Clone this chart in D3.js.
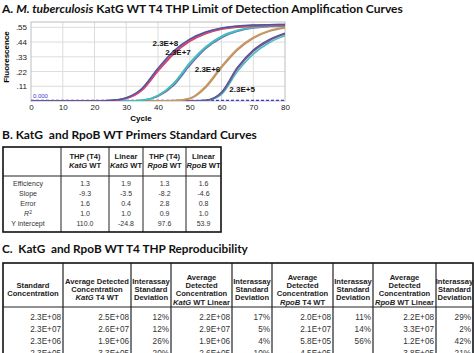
<!DOCTYPE html>
<html>
<head>
<meta charset="utf-8">
<script src="https://cdn.jsdelivr.net/npm/d3@7"></script>
<style>
  body { margin: 0; background: #fff; }
  svg { display: block; }
</style>
</head>
<body>
<svg id="fig"></svg>
<script>
// ---- data: amplification curves (fluorescence read every 5 cycles) ----
const cycles = [0, 5, 10, 15, 20, 25, 30, 35, 40, 45, 50, 55, 60, 65, 70, 75, 80];
const e8Blue = [0, 0, 0, 0, 0, 0.004, 0.024, 0.095, 0.245, 0.375, 0.462, 0.515, 0.545, 0.56, 0.567, 0.57, 0.572];
const e8Pink = [0, 0, 0, 0, 0, 0.003, 0.02, 0.085, 0.23, 0.36, 0.452, 0.508, 0.54, 0.556, 0.564, 0.568, 0.57];
const e8Teal = [0, 0, 0, 0, 0, 0.004, 0.022, 0.09, 0.238, 0.368, 0.457, 0.511, 0.542, 0.558, 0.565, 0.569, 0.571];
const e8Red = [0, 0, 0, 0, 0, 0.003, 0.018, 0.08, 0.222, 0.352, 0.445, 0.502, 0.535, 0.551, 0.558, 0.562, 0.564];
const e7Cyan = [0, 0, 0, 0, 0, 0, 0, 0.005, 0.04, 0.13, 0.28, 0.40, 0.48, 0.525, 0.548, 0.558, 0.563];
const e7Purple = [0, 0, 0, 0, 0, 0, 0, 0.004, 0.034, 0.118, 0.265, 0.39, 0.472, 0.52, 0.545, 0.556, 0.561];
const e7Teal = [0, 0, 0, 0, 0, 0, 0, 0.005, 0.042, 0.135, 0.285, 0.405, 0.484, 0.528, 0.55, 0.559, 0.564];
const e6Orange = [0, 0, 0, 0, 0, 0, 0, 0, 0, 0.003, 0.02, 0.11, 0.26, 0.39, 0.475, 0.525, 0.55];
const e6Tan = [0, 0, 0, 0, 0, 0, 0, 0, 0, 0.002, 0.017, 0.1, 0.248, 0.38, 0.468, 0.52, 0.546];
const e5Purple = [0, 0, 0, 0, 0, 0, 0, 0, 0, 0, 0, 0.004, 0.06, 0.24, 0.37, 0.45, 0.50];
const e5Cyan = [0, 0, 0, 0, 0, 0, 0, 0, 0, 0, 0, 0.003, 0.05, 0.22, 0.35, 0.435, 0.487];
const e5Dark = [0, 0, 0, 0, 0, 0, 0, 0, 0, 0, 0, 0.005, 0.065, 0.25, 0.38, 0.458, 0.507];
const curveList = [e5Cyan, e5Dark, e5Purple, e6Tan, e6Orange, e7Purple, e7Teal, e7Cyan, e8Red, e8Teal, e8Pink, e8Blue];
const curveColors = ["#47bcc1", "#594f8c", "#6a5a9c", "#b89070", "#c9985c", "#7467ad", "#52b8b0", "#3dbfc1", "#c9405a", "#45b3ae", "#e0457b", "#4f55a3"];
const threshold = 0.004;

// concentration labels on the chart
const concLabels = ["2.3E+8", "2.3E+7", "2.3E+6", "2.3E+5"];
const concLabelCycle = [42.3, 46.3, 55.6, 66.5];
const concLabelValue = [0.432, 0.364, 0.238, 0.089];

const xTicks = [0, 10, 20, 30, 40, 50, 60, 70, 80];
const yTicks = [0.11, 0.22, 0.33, 0.44, 0.55];
const yTickLabels = [".11", ".22", ".33", ".44", ".55"];

// ---- data: table B ----
const tbHead1 = ["THP (T4)", "Linear", "THP (T4)", "Linear"];
const tbHead2 = ["KatG WT", "KatG WT", "RpoB WT", "RpoB WT"];
const tbRows = ["Efficiency", "Slope", "Error", "R2", "Y intercept"];
const efficiency = [1.3, 1.9, 1.3, 1.6];
const slope = [-9.3, -3.5, -8.2, -4.6];
const error = [1.6, 0.4, 2.8, 0.8];
const rSquared = [1.0, 1.0, 0.9, 1.0];
const yIntercept = [110.0, -24.8, 97.6, 53.9];
const tbValues = [efficiency, slope, error, rSquared, yIntercept];

// ---- data: table C ----
const tcHeads = [
  ["Standard", "Concentration"],
  ["Average Detected", "Concentration", "KatG T4 WT"],
  ["Interassay", "Standard", "Deviation"],
  ["Average", "Detected", "Concentration", "KatG WT Linear"],
  ["Interassay", "Standard", "Deviation"],
  ["Average", "Detected", "Concentration", "RpoB T4 WT"],
  ["Interassay", "Standard", "Deviation"],
  ["Average", "Detected", "Concentration", "RpoB WT Linear"],
  ["Interassay", "Standard", "Deviation"]
];
const stdConc = [2.3e8, 2.3e7, 2.3e6, 2.3e5];
const katgT4 = [2.5e8, 2.6e7, 1.9e6, 3.3e5];
const katgT4Sd = [12, 12, 26, 20];
const katgLin = [2.2e8, 2.9e7, 1.9e6, 2.6e5];
const katgLinSd = [17, 5, 4, 10];
const rpobT4 = [2.0e8, 2.1e7, 5.8e5, 4.5e5];
const rpobT4Sd = [11, 14, 56, null];
const rpobLin = [2.2e8, 3.3e7, 1.2e6, 3.8e5];
const rpobLinSd = [29, 2, 42, 21];
const tcColumns = [stdConc, katgT4, katgT4Sd, katgLin, katgLinSd, rpobT4, rpobT4Sd, rpobLin, rpobLinSd];

// ---- layout ----
const W = 474, H = 353;
const sans = "'Liberation Sans', Arial, sans-serif";
const titleFont = "Lato, 'Open Sans', sans-serif";
const genes = ["KatG", "RpoB"];

const svg = d3.select("#fig").attr("width", W).attr("height", H);

// fit a text element to a target width by scaling its font size
function fit(sel, width) {
  const len = sel.node().getComputedTextLength();
  const fs = parseFloat(sel.style("font-size"));
  sel.style("font-size", (fs * width / len) + "px");
}

// text with italic gene names
function richLine(sel, str) {
  str.split(" ").forEach((w, i) => {
    sel.append("tspan")
      .style("font-style", genes.includes(w) ? "italic" : "normal")
      .text((i ? " " : "") + w);
  });
}

function title(parts, yBase, width) {
  const t = svg.append("text")
    .attr("x", 2).attr("y", yBase)
    .style("font-family", titleFont)
    .style("font-weight", "bold")
    .style("font-size", "13px")
    .style("white-space", "pre")
    .attr("fill", "#111");
  parts.forEach(p => t.append("tspan").style("font-style", p[1] ? "italic" : "normal").text(p[0]));
  fit(t, width);
}

title([["A. ", false], ["M. tuberculosis", true], [" KatG WT T4 THP Limit of Detection Amplification Curves", false]], 12.5, 401);
title([["B. KatG  and RpoB WT Primers Standard Curves", false]], 138.5, 255);
title([["C.  KatG  and RpoB WT T4 THP Reproducibility", false]], 253, 246);

// ---- panel A chart ----
const x = d3.scaleLinear().domain([0, 80]).range([31, 285]);
const y = d3.scaleLinear().domain([0, 0.59]).range([101, 22]);

const chart = svg.append("g");

chart.append("g").selectAll("line.vg")
  .data(xTicks.slice(1, -1))
  .join("line")
  .attr("x1", d => x(d)).attr("x2", d => x(d))
  .attr("y1", y.range()[1]).attr("y2", y.range()[0])
  .attr("stroke", "#dcdcdc").attr("stroke-width", 1);

chart.append("g").selectAll("line.hg")
  .data(yTicks)
  .join("line")
  .attr("x1", x.range()[0]).attr("x2", x.range()[1])
  .attr("y1", d => y(d)).attr("y2", d => y(d))
  .attr("stroke", "#dcdcdc").attr("stroke-width", 1);

chart.append("rect")
  .attr("x", x.range()[0]).attr("y", y.range()[1])
  .attr("width", x.range()[1] - x.range()[0])
  .attr("height", y.range()[0] - y.range()[1])
  .attr("fill", "none").attr("stroke", "#bdbdbd");

const xAxis = chart.append("g")
  .attr("transform", `translate(0,${y.range()[0]})`)
  .call(d3.axisBottom(x).tickValues(xTicks).tickSize(0).tickPadding(3));
const yAxis = chart.append("g")
  .attr("transform", `translate(${x.range()[0]},0)`)
  .call(d3.axisLeft(y).tickValues(yTicks).tickSize(0).tickPadding(4)
    .tickFormat((d, i) => yTickLabels[i]));
[xAxis, yAxis].forEach(a => {
  a.select(".domain").remove();
  a.selectAll("text").style("font-family", sans).style("font-size", "8px").attr("fill", "#222");
});

chart.append("text")
  .attr("x", 141).attr("y", 121)
  .attr("text-anchor", "middle")
  .style("font-family", sans).style("font-size", "8px").style("font-weight", "bold")
  .text("Cycle");

chart.append("text")
  .attr("transform", "translate(9,57) rotate(-90)")
  .attr("text-anchor", "middle")
  .style("font-family", sans).style("font-size", "8px").style("font-weight", "bold")
  .text("Fluorescence");

svg.append("clipPath").attr("id", "plotclip")
  .append("rect")
  .attr("x", x.range()[0]).attr("y", y.range()[1] - 2)
  .attr("width", x.range()[1] - x.range()[0])
  .attr("height", y.range()[0] - y.range()[1] + 2);

const line = d3.line()
  .x((d, i) => x(cycles[i]))
  .y(d => y(d))
  .curve(d3.curveMonotoneX);

const curves = chart.append("g").attr("clip-path", "url(#plotclip)");

curves.append("line")
  .attr("x1", x(0)).attr("x2", x(80))
  .attr("y1", y(threshold)).attr("y2", y(threshold))
  .attr("stroke", "#3b3bd0").attr("stroke-width", 1.5)
  .attr("stroke-dasharray", "3,2");

curves.selectAll("path.curve")
  .data(curveList)
  .join("path")
  .attr("class", "curve")
  .attr("d", line)
  .attr("fill", "none")
  .attr("stroke", (d, i) => curveColors[i])
  .attr("stroke-width", 1.5);

chart.append("text")
  .attr("x", x(0.6)).attr("y", y(threshold) - 2)
  .style("font-family", sans).style("font-size", "6px")
  .attr("fill", "#3b3bd0")
  .text("0.000");

chart.selectAll("text.conc")
  .data(concLabels)
  .join("text")
  .attr("class", "conc")
  .attr("x", (d, i) => x(concLabelCycle[i]))
  .attr("y", (d, i) => y(concLabelValue[i]))
  .attr("dy", "0.35em")
  .attr("text-anchor", "middle")
  .style("font-family", sans).style("font-size", "8px").style("font-weight", "bold")
  .attr("fill", "#111")
  .text(d => d);

// ---- panel B table ----
const tbEdges = [3, 61, 109, 143, 186, 221];
const tbTop = 147, tbHeadBottom = 176, tbBottom = 232;
const tbRowY = d3.scalePoint().domain(tbRows).range([184, 224]);
const tb = svg.append("g").style("font-family", sans);

tb.selectAll("line.col")
  .data(tbEdges.slice(1, -1))
  .join("line")
  .attr("x1", d => d).attr("x2", d => d)
  .attr("y1", tbTop).attr("y2", tbBottom)
  .attr("stroke", "#222").attr("stroke-width", 1);
tb.append("line")
  .attr("x1", tbEdges[0]).attr("x2", tbEdges[tbEdges.length - 1])
  .attr("y1", tbHeadBottom).attr("y2", tbHeadBottom)
  .attr("stroke", "#222").attr("stroke-width", 1);
tb.append("rect")
  .attr("x", tbEdges[0]).attr("y", tbTop)
  .attr("width", tbEdges[tbEdges.length - 1] - tbEdges[0])
  .attr("height", tbBottom - tbTop)
  .attr("fill", "none").attr("stroke", "#111").attr("stroke-width", 1.6);

tbHead1.forEach((h, i) => {
  const cx = (tbEdges[i + 1] + tbEdges[i + 2]) / 2;
  tb.append("text").attr("x", cx).attr("y", 156).attr("dy", "0.35em")
    .attr("text-anchor", "middle")
    .style("font-size", "7.6px").style("font-weight", "bold").attr("fill", "#222")
    .text(h);
  const t2 = tb.append("text").attr("x", cx).attr("y", 165.5).attr("dy", "0.35em")
    .attr("text-anchor", "middle")
    .style("font-size", "7.6px").style("font-weight", "bold").attr("fill", "#222");
  richLine(t2, tbHead2[i]);
});

tbRows.forEach((r, j) => {
  const t = tb.append("text")
    .attr("x", 28).attr("y", tbRowY(r)).attr("dy", "0.35em")
    .attr("text-anchor", "middle")
    .style("font-size", "7px").attr("fill", "#333");
  if (r === "R2") {
    t.append("tspan").style("font-style", "italic").text("R");
    t.append("tspan").attr("dy", "-0.4em").style("font-size", "5px").text("2");
  } else {
    t.text(r);
  }
  tbValues[j].forEach((v, i) => {
    tb.append("text")
      .attr("x", (tbEdges[i + 1] + tbEdges[i + 2]) / 2)
      .attr("y", tbRowY(r)).attr("dy", "0.35em")
      .attr("text-anchor", "middle")
      .style("font-size", "7px").attr("fill", "#333")
      .text(v.toFixed(1));
  });
});

// ---- panel C table ----
const tcEdges = [3, 63, 131, 171, 232, 272, 333, 373, 436, 473];
const tcTop = 263, tcHeadBottom = 307, tcBottom = 362;
const tcRowY = d3.scalePoint().domain(d3.range(stdConc.length)).range([317, 353]);
const tc = svg.append("g").style("font-family", sans);

function sci(v) {
  const [m, e] = v.toExponential(1).toUpperCase().split("E");
  const sign = e[0];
  const digits = e.slice(1).padStart(2, "0");
  return `${m}E${sign}${digits}`;
}

tc.selectAll("line.col")
  .data(tcEdges.slice(1, -1))
  .join("line")
  .attr("x1", d => d).attr("x2", d => d)
  .attr("y1", tcTop).attr("y2", tcBottom)
  .attr("stroke", "#333").attr("stroke-width", 1.3);
tc.append("line")
  .attr("x1", tcEdges[0]).attr("x2", tcEdges[tcEdges.length - 1])
  .attr("y1", tcHeadBottom).attr("y2", tcHeadBottom)
  .attr("stroke", "#222").attr("stroke-width", 1);
tc.append("rect")
  .attr("x", tcEdges[0]).attr("y", tcTop)
  .attr("width", tcEdges[tcEdges.length - 1] - tcEdges[0])
  .attr("height", tcBottom - tcTop)
  .attr("fill", "none").attr("stroke", "#111").attr("stroke-width", 1.6);

const tcLineH = 8.3, tcHeadMid = 289.5;
tcHeads.forEach((lines, i) => {
  const cx = (tcEdges[i] + tcEdges[i + 1]) / 2;
  lines.forEach((l, k) => {
    const t = tc.append("text")
      .attr("x", cx)
      .attr("y", tcHeadMid - (lines.length - 1) * tcLineH / 2 + k * tcLineH)
      .attr("dy", "0.35em")
      .attr("text-anchor", "middle")
      .style("font-size", "7.6px").style("font-weight", "bold").attr("fill", "#222");
    richLine(t, l);
  });
});

tcColumns.forEach((col, i) => {
  col.forEach((v, r) => {
    if (v === null) return;
    tc.append("text")
      .attr("x", tcEdges[i + 1] - 2)
      .attr("y", tcRowY(r)).attr("dy", "0.35em")
      .attr("text-anchor", "end")
      .style("font-size", "8.2px").attr("fill", "#333")
      .text(i % 2 === 0 && i > 0 ? v + "%" : sci(v));
  });
});
</script>
</body>
</html>
